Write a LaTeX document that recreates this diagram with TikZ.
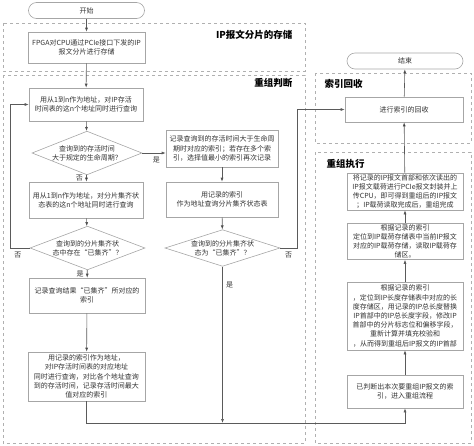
\documentclass[tikz,border=0pt]{standalone}
\usepackage{fontspec}
\newfontfamily\cjk{Noto Sans CJK SC}
\usepackage{tikz}
\usetikzlibrary{arrows.meta,calc,positioning,shapes.geometric}
\definecolor{linegray}{HTML}{5A5A5A}
\definecolor{boxgray}{HTML}{A6A6A6}
\definecolor{dashgray}{HTML}{B0B0B0}
\definecolor{txtgray}{HTML}{333333}

\begin{document}
\begin{tikzpicture}[x=1pt,y=-1pt,
font=\cjk\fontsize{7}{9.2}\selectfont,text=txtgray,
box/.style={draw=boxgray,line width=0.6pt,align=center,inner sep=1pt,minimum width=116pt},
term/.style={box,rounded corners=8pt,minimum height=16pt},
cond/.style={diamond,draw=boxgray,line width=0.6pt,align=center,inner xsep=-16pt,inner ysep=-5pt,minimum width=115pt},
zone/.style={draw=dashgray,dashed,line width=0.6pt},
zonelabel/.style={font=\cjk\bfseries\fontsize{9.5}{11}\selectfont,text=black},
flow/.style={->,draw=linegray,line width=0.6pt,>={Latex[length=4pt,width=3pt]}}]
\useasboundingbox (0,0) rectangle (474,445);
% dashed zones
\draw[zone] (3,23) rectangle (305,71);
\draw[zone] (3,75) rectangle (305,443);
\draw[zone] (315,73) rectangle (471,143);
\draw[zone] (315,152) rectangle (471,443);
\node[zonelabel,anchor=east] (storeT) at (296,35) {IP报文分片的存储};
\node[zonelabel,anchor=east] (judgeT) at (296,83) {重组判断};
\node[zonelabel,anchor=west] (recycT) at (321,84) {索引回收};
\node[zonelabel,anchor=west] (execT) at (323,164) {重组执行};
% left column
\node[term] (start) at (86.5,10.5) {开始};
\node[box,minimum width=117pt,minimum height=31pt] (fpga) at (86.5,47.5) {FPGA对CPU通过PCIe接口下发的IP\\报文分片进行存储};
\node[box,minimum width=114pt,minimum height=33pt] (ttlq) at (86,104.5) {用从1到n作为地址，对IP存活\\时间表的这n个地址同时进行查询};
\node[cond,minimum width=110pt,minimum height=28pt] (ttlc) at (87,153) {查询到的存活时间\\大于规定的生命周期？};
\node[box,minimum width=114pt,minimum height=36pt] (fullq) at (86,200) {用从1到n作为地址，对分片集齐状\\态表的这n个地址同时进行查询};
\node[cond,minimum height=31pt] (fullc) at (87.5,248) {查询到的分片集齐状\\态中存在“已集齐”？};
\node[box,minimum height=35pt] (fullrec) at (87,295.5) {记录查询结果“已集齐”所对应的\\索引};
\node[box,minimum width=117pt,minimum height=49pt] (maxrec) at (86.5,376.5) {用记录的索引作为地址，\\对IP存活时间表的对应地址\\同时进行查询，对比各个地址查询\\到的存活时间，记录存活时间最大\\值对应的索引};
% middle column
\node[box,minimum width=112pt,minimum height=37pt] (minrec) at (222,148.5) {记录查询到的存活时间大于生命周\\期时对应的索引；若存在多个索\\引，选择值最小的索引再次记录};
\node[box,minimum width=112pt,minimum height=35pt] (idxq) at (222,199.5) {用记录的索引\\作为地址查询分片集齐状态表};
\node[cond,minimum height=33pt] (idxc) at (222.5,248) {查询到的分片集齐状\\态为“已集齐”？};
% right column
\node[term] (stop) at (405,61) {结束};
\node[box,minimum width=118pt,minimum height=25pt] (recyc) at (404,109.5) {进行索引的回收};
\node[box,minimum height=37pt] (encap) at (405,191.5) {将记录的IP报文首部和依次读出的\\IP报文载荷进行PCIe报文封装并上\\传CPU，即可得到重组后的IP报文\\；IP载荷读取完成后，重组完成};
\node[box,minimum height=33pt] (payld) at (405,241.5) {根据记录的索引\\定位到IP载荷存储表中当前IP报文\\对应的IP载荷存储，读取IP载荷存\\储区。};
\node[box,minimum height=68pt] (hdr) at (405,316) {根据记录的索引\\，定位到IP长度存储表中对应的长\\度存储区，用记录的IP总长度替换\\IP首部中的IP总长度字段，修改IP\\首部中的分片标志位和偏移字段，\\重新计算并填充校验和\\，从而得到重组后IP报文的IP首部};
\node[box,minimum height=33pt] (begin) at (405,391.5) {已判断出本次要重组IP报文的索\\引，进入重组流程};
% turning points
\coordinate (loopL) at (10,104.5);
\coordinate (bus) at (0,423);
\coordinate (backR) at (297,0);
\path[flow]
(start) edge (fpga)
(fpga) edge (ttlq)
(ttlq) edge (ttlc)
(ttlc) edge node[left,pos=0.45] {否} (fullq)
(fullq) edge (fullc)
(fullc) edge node[left,pos=0.45] {是} (fullrec)
(fullrec) edge (maxrec)
(minrec) edge (idxq)
(idxq) edge (idxc)
(begin) edge (hdr)
(hdr) edge (payld)
(payld) edge (encap)
(encap) edge (recyc)
(recyc) edge (stop);
\draw[flow] (ttlc.east) -- node[below,pos=0.6] {是} (ttlc.east -| minrec.west);
\draw[flow] (fullc.west) -| node[below,pos=0.3] {否} (loopL) -- (ttlq.west);
\draw[flow] (maxrec.south) |- (bus -| begin.south) -- (begin.south);
\draw[flow] (idxc.south) -- node[right,pos=0.12] {是} (idxc.south |- bus);
\draw[flow] (idxc.east) -- node[below,pos=0.5] {否} (idxc.east -| backR) |- (recyc.west);
\end{tikzpicture}
\end{document}
